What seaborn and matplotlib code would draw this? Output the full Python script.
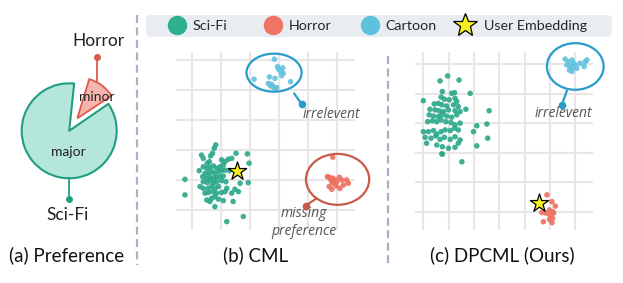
import matplotlib
matplotlib.use("Agg")
import matplotlib.pyplot as plt
import seaborn as sns
import pandas as pd
from matplotlib.patches import Wedge, Ellipse, FancyBboxPatch
from matplotlib.lines import Line2D

# === DATOS ===
genres = ["Sci-Fi", "Horror", "Cartoon"]
pref_labels = ["major", "minor"]
pref_share = [0.8625, 0.1375]

# (b) CML
cml_scifi_x = [0.82, 0.77, 0.71, 0.64, 0.33, 0.39, 0.60, 0.53, 1.02, 1.14,
               1.25, 1.37, 1.52, 1.91, 1.97, 1.08, 0.97, 0.85, 0.74, 0.62,
               0.51, 0.39, 0.25, 0.45, 0.56, 0.68, 0.79, 0.91, 1.02, 1.14,
               1.29, 0.37, 0.51, 0.62, 0.74, 0.85, 0.97, 1.08, -0.24, 0.39,
               0.53, 0.64, 0.74, 0.85, 1.02, 1.17, 1.66, 1.94, 0.28, 0.39,
               0.56, 0.68, 0.79, 0.91, 1.20, 1.48, 1.60, 0.45, 0.56, 0.71,
               0.85, 1.02, 1.14, 1.37, 0.68, 0.79, 0.91, 0.51, 0.62, 1.08,
               1.42, -0.24, 0.79, 1.77, 1.20]
cml_scifi_y = [2.17, 2.06, 1.89, 1.80, 1.83, 1.72, 1.61, 1.56, 1.67, 1.61,
               1.69, 1.72, 1.89, 1.87, 1.56, 1.50, 1.44, 1.39, 1.47, 1.42,
               1.39, 1.44, 1.31, 1.22, 1.24, 1.28, 1.22, 1.28, 1.31, 1.33,
               1.31, 1.11, 1.06, 1.11, 1.06, 1.09, 1.11, 1.13, 1.02, 0.94,
               0.91, 0.98, 0.89, 0.94, 0.98, 0.94, 0.89, 0.91, 0.78, 0.72,
               0.72, 0.78, 0.72, 0.78, 0.72, 0.69, 0.61, 0.56, 0.58, 0.61,
               0.56, 0.58, 0.61, 0.56, 0.39, 0.44, 0.36, 0.33, 0.28, 0.31,
               0.28, 0.50, 0.11, -0.22, -0.39]
cml_horror_x = [4.85, 4.67, 4.73, 4.78, 4.85, 4.93, 4.82, 4.87, 4.99, 5.08,
                5.16, 5.22, 5.33, 5.39, 4.73, 4.82, 4.97, 5.10]
cml_horror_y = [1.76, 1.11, 1.09, 1.02, 1.06, 1.00, 0.94, 0.89, 0.94, 1.09,
                1.00, 0.83, 1.00, 0.89, 0.78, 0.69, 0.80, 0.72]
cml_cartoon_x = [2.84, 2.95, 2.98, 3.13, 3.06, 3.15, 3.09, 2.67, 2.86, 2.14,
                 3.40, 2.75, 2.80, 2.86, 2.92, 2.71, 2.63]
cml_cartoon_y = [5.03, 4.78, 4.70, 4.74, 4.61, 4.56, 4.48, 4.44, 4.39, 4.36,
                 4.28, 4.19, 4.11, 4.06, 4.08, 4.14, 4.22]
cml_user = (1.54, 1.31)

# (c) DPCML
dp_scifi_x = [0.96, 0.66, 1.41, 0.75, 1.12, 1.23, 1.85, 0.00, 0.70, 0.83,
              1.02, 1.25, 1.32, 0.43, 0.59, 0.73, 0.92, 1.19, 1.38, 1.68,
              2.60, 0.26, 0.46, 0.62, 0.79, 0.99, 1.25, 1.45, 0.23, 0.40,
              0.59, 0.73, 0.92, 1.12, 1.32, 0.17, 0.36, 0.53, 0.70, 0.89,
              1.09, 1.25, 1.45, 2.11, 2.51, 0.00, 0.20, 0.40, 0.53, 0.70,
              0.86, 1.06, 1.23, 1.38, 1.98, 0.07, 0.30, 0.49, 0.66, 0.83,
              1.06, 1.25, 1.45, 2.54, 0.53, 0.75, 0.99, 1.25, 1.38, 2.11,
              0.75, 1.52, 0.13, 0.73]
dp_scifi_y = [4.60, 4.43, 4.46, 4.07, 4.01, 4.03, 4.01, 3.76, 3.88, 3.81,
              3.79, 3.84, 3.73, 3.65, 3.67, 3.62, 3.58, 3.62, 3.56, 3.47,
              3.42, 3.47, 3.45, 3.42, 3.39, 3.45, 3.42, 3.39, 3.28, 3.24,
              3.22, 3.28, 3.24, 3.20, 3.28, 3.05, 3.08, 3.05, 3.11, 3.05,
              3.02, 2.94, 3.00, 2.91, 2.97, 2.71, 2.71, 2.75, 2.63, 2.71,
              2.77, 2.75, 2.83, 2.77, 2.71, 2.52, 2.49, 2.57, 2.45, 2.52,
              2.45, 2.54, 2.43, 2.49, 2.26, 2.20, 2.15, 2.18, 2.32, 2.23,
              1.95, 1.69, 2.32, 1.96]
dp_horror_x = [4.88, 5.08, 5.21, 4.98, 5.11, 4.68, 4.85, 5.01, 5.14, 4.74,
               4.98, 5.11, 5.08]
dp_horror_y = [0.57, 0.34, 0.19, 0.06, 0.00, -0.03, -0.05, -0.11, -0.05, -0.34,
               -0.26, -0.22, -0.37]
dp_cartoon_x = [5.60, 5.73, 5.87, 5.93, 5.83, 5.77, 5.87, 6.00, 6.06, 6.19,
                6.39, 6.35, 6.46, 5.67, 5.90]
dp_cartoon_y = [5.17, 5.08, 5.14, 5.03, 4.92, 4.80, 4.75, 4.97, 4.86, 5.03,
                5.08, 4.92, 5.14, 4.97, 4.86]
dp_user = (4.55, 0.31)

# === ESTILO ===
sns.set_theme(style="white")
plt.rcParams["font.family"] = ["Lato", "DejaVu Sans"]

palette = {"Sci-Fi": "#2aa88a", "Horror": "#ee6f5f", "Cartoon": "#62c2de"}
legend_colors = {"Sci-Fi": "#2db08e", "Horror": "#f07464", "Cartoon": "#5cc2de"}
STAR = "#f7f020"
GRID = "#e7e7e7"
SEP = "#a9b1c6"
W, H = 623, 283


def fx(px):
    return px / W


def fy(py):
    return 1 - py / H


def make_df(sx, sy, hx, hy, cx, cy):
    return pd.DataFrame({
        "x": sx + hx + cx,
        "y": sy + hy + cy,
        "genre": ["Sci-Fi"] * len(sx) + ["Horror"] * len(hx) + ["Cartoon"] * len(cx),
    })


def embed_panel(ax, df, user, xlim, ylim, nx, ny):
    ax.set_xlim(*xlim)
    ax.set_ylim(*ylim)
    ax.set_xticks(range(nx))
    ax.set_yticks(range(ny))
    ax.grid(True, color=GRID, lw=1.5)
    ax.set_axisbelow(True)
    ax.tick_params(length=0, labelbottom=False, labelleft=False)
    for s in ax.spines.values():
        s.set_visible(False)
    sns.scatterplot(data=df, x="x", y="y", hue="genre", palette=palette,
                    s=16, linewidth=0, alpha=0.9, legend=False, ax=ax)
    ax.scatter([user[0]], [user[1]], marker="*", s=190, color=STAR,
               edgecolor="black", linewidth=0.9, zorder=5)
    ax.set_xlabel("")
    ax.set_ylabel("")


def callout(ax, center, w, h, color, p0, p1):
    ax.add_patch(Ellipse(center, w, h, fill=False, edgecolor=color, lw=1.6,
                         clip_on=False, zorder=4))
    ax.plot([p0[0], p1[0]], [p0[1], p1[1]], color=color, lw=1.6,
            clip_on=False, zorder=4)
    ax.plot([p1[0]], [p1[1]], "o", color=color, ms=4.5, clip_on=False, zorder=4)


fig = plt.figure(figsize=(W / 100, H / 100), dpi=100)

# === (a) Preference ===
ax_a = fig.add_axes([0, 0, fx(137), 1])
ax_a.set_xlim(0, 137)
ax_a.set_ylim(0, H)
ax_a.set_aspect("equal")
ax_a.axis("off")

start = 84
major_span = pref_share[0] * 360
gap_span = pref_share[1] * 360
ctr, r = (69.2, 152.2), 47.5
ax_a.add_patch(Wedge(ctr, r, start, start + major_span, facecolor="#b5e6da",
                     edgecolor="#1f9e82", lw=1.5, joinstyle="round"))
mid = start - gap_span / 2 - 6
ax_a.add_patch(Wedge((77.3, 164.7), 41, mid - gap_span * 0.4, mid + gap_span * 0.4,
                     facecolor="#f7b6ad", edgecolor="#dc5a4c", lw=1.3))
ax_a.plot([96.7, 96.7], [202, 226.3], color="#dc5a4c", lw=1.3)
ax_a.plot([96.7], [226.3], "o", color="#dc5a4c", ms=4)
ax_a.plot([69.2, 69.2], [104.7, 84], color="#1f9e82", lw=1.3)
ax_a.plot([69.2], [84], "o", color="#1f9e82", ms=4)
ax_a.text(98, 242, "Horror", ha="center", va="center", fontsize=12.5, color="#222")
ax_a.text(67.5, 68, "Sci-Fi", ha="center", va="center", fontsize=12.5, color="#222")
ax_a.text(68, 131, pref_labels[0], ha="center", va="center", fontsize=10, color="#222")
ax_a.text(97, 186, pref_labels[1], ha="center", va="center", fontsize=10, color="#222")

# === (b) CML ===
ax_b = fig.add_axes([fx(176), fy(230), fx(355) - fx(176), fy(52) - fy(230)])
df_b = make_df(cml_scifi_x, cml_scifi_y, cml_horror_x, cml_horror_y,
               cml_cartoon_x, cml_cartoon_y)
embed_panel(ax_b, df_b, cml_user, (-0.55, 5.62), (-0.67, 5.27), 6, 6)
callout(ax_b, (2.83, 4.58), 1.9, 1.27, "#2a9ccb", (3.52, 3.89), (3.78, 3.53))
callout(ax_b, (5.02, 1.02), 2.18, 1.70, "#c95a49", (4.30, 0.39), (3.92, 0.14))
ax_b.text(4.81, 3.17, "irrelevent", ha="center", va="center", fontsize=10,
          style="italic", family="Open Sans", color="#555555", clip_on=False)
ax_b.text(3.84, -0.13, "missing", ha="center", va="center", fontsize=10,
          style="italic", family="Open Sans", color="#555555", clip_on=False)
ax_b.text(3.84, -0.72, "preference", ha="center", va="center", fontsize=10,
          style="italic", family="Open Sans", color="#555555", clip_on=False)

# === (c) DPCML ===
ax_c = fig.add_axes([fx(415), fy(230), fx(593) - fx(415), fy(51.7) - fy(230)])
df_c = make_df(dp_scifi_x, dp_scifi_y, dp_horror_x, dp_horror_y,
               dp_cartoon_x, dp_cartoon_y)
embed_panel(ax_c, df_c, dp_user, (-0.33, 6.70), (-0.62, 5.42), 7, 6)
callout(ax_c, (6.0, 4.92), 2.24, 1.58, "#2a9ccb", (5.67, 4.10), (5.47, 3.62))
ax_c.text(5.53, 3.31, "irrelevent", ha="center", va="center", fontsize=10,
          style="italic", family="Open Sans", color="#555555", clip_on=False)

# === titulos ===
fig.text(fx(67), fy(255), "(a) Preference", ha="center", va="center", fontsize=13.5, color="#111")
fig.text(fx(256), fy(255), "(b) CML", ha="center", va="center", fontsize=13.5, color="#111")
fig.text(fx(502.5), fy(255), "(c) DPCML (Ours)", ha="center", va="center", fontsize=13.5, color="#111")

# === separadores ===
for x0, y0 in [(137, 15), (388, 56)]:
    fig.add_artist(Line2D([fx(x0), fx(x0)], [fy(y0), fy(265)], color=SEP, lw=1.6,
                          dashes=(3.6, 2.0)))

# === leyenda ===
fig.add_artist(FancyBboxPatch((fx(146), fy(37)), fx(612) - fx(146), fy(15) - fy(37),
                              boxstyle="round,pad=0,rounding_size=0.008",
                              mutation_aspect=W / H, transform=fig.transFigure,
                              facecolor="#e9ecf1", edgecolor="none", zorder=0))
handles = [Line2D([], [], marker="o", ls="", ms=13, color=legend_colors[g]) for g in genres]
handles.append(Line2D([], [], marker="*", ls="", ms=18, markerfacecolor=STAR,
                       markeredgecolor="black", markeredgewidth=0.9))
labels = genres + ["User Embedding"]
marker_px = [177, 273, 370, 465]
fs = 10.3
for h, lab, mx in zip(handles, labels, marker_px):
    half = 1.3 * fs * 100 / 72 / 2
    fig.legend([h], [lab], loc="center left", bbox_to_anchor=(fx(mx - half), fy(26)),
               frameon=False, handlelength=1.3, handletextpad=0.45 if lab != "User Embedding" else 0.7,
               borderpad=0, borderaxespad=0, fontsize=fs)

fig.savefig("out.png", dpi=100)
